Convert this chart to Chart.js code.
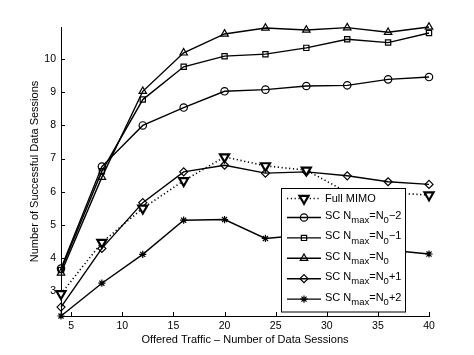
<!DOCTYPE html>
<html><head><meta charset="utf-8">
<script src="https://cdn.jsdelivr.net/npm/chart.js@4"></script>
<style>html,body{margin:0;padding:0;background:#fff;}#wrap{width:474px;height:355px;}</style>
</head><body><div id="wrap"><canvas id="c" width="474" height="355"></canvas></div>
<script>
const sessions = [4, 8, 12, 16, 20, 24, 28, 32, 36, 40];
const fullMimo = [2.92, 4.47, 5.5, 6.33, 7.05, 6.78, 6.65, 5.98, 5.97, 5.9];
const scMinus2 = [3.68, 6.76, 8.0, 8.54, 9.03, 9.08, 9.19, 9.21, 9.39, 9.46];
const scMinus1 = [3.64, 6.62, 8.78, 9.77, 10.09, 10.15, 10.34, 10.6, 10.5, 10.79];
const scZero   = [3.55, 6.44, 9.03, 10.19, 10.76, 10.94, 10.88, 10.95, 10.81, 10.97];
const scPlus1  = [2.52, 4.29, 5.67, 6.6, 6.8, 6.56, 6.6, 6.48, 6.3, 6.22];
const scPlus2  = [2.25, 3.24, 4.11, 5.14, 5.16, 4.59, 4.7, 4.45, 4.24, 4.12];
const xTicks = [5, 10, 15, 20, 25, 30, 35, 40];
const yTicks = [3, 4, 5, 6, 7, 8, 9, 10];
const xTitle = 'Offered Traffic \u2013 Number of Data Sessions';
const yTitle = 'Number of Successful Data Sessions';
// legend label parts: [text, isSubscript]
const legendLabels = [
  [['Full MIMO', 0]],
  [['SC N', 0], ['max', 1], ['=N', 0], ['0', 1], ['\u22122', 0]],
  [['SC N', 0], ['max', 1], ['=N', 0], ['0', 1], ['\u22121', 0]],
  [['SC N', 0], ['max', 1], ['=N', 0], ['0', 1]],
  [['SC N', 0], ['max', 1], ['=N', 0], ['0', 1], ['+1', 0]],
  [['SC N', 0], ['max', 1], ['=N', 0], ['0', 1], ['+2', 0]]
];

const FONT = "'Liberation Sans', Arial, Helvetica, sans-serif";
const pts = arr => arr.map((v, i) => ({x: sessions[i], y: v}));

function ds(data, style, radius, extra) {
  return Object.assign({
    data: pts(data), borderColor: '#000', backgroundColor: '#fff',
    borderWidth: 1.4, pointStyle: style, pointRadius: radius,
    pointBorderColor: '#000', pointBackgroundColor: 'rgba(255,255,255,0)',
    pointBorderWidth: 1.2, tension: 0, fill: false, clip: false
  }, extra || {});
}

const datasets = [
  ds(fullMimo, 'triangle', 5.2, {borderDash: [1.2, 2.6], borderWidth: 1.6, pointRotation: 180, pointBorderWidth: 2.2, pointBackgroundColor: '#fff'}),
  ds(scMinus2, 'circle', 3.7),
  ds(scMinus1, 'rect', 3.7),
  ds(scZero, 'triangle', 4.3),
  ds(scPlus1, 'rectRot', 4.0),
  ds(scPlus2, 'star', 3.6)
];

const inTicks = {
  id: 'inTicks',
  beforeDatasetsDraw(chart) {
    const ctx = chart.ctx, xs = chart.scales.x, ys = chart.scales.y, a = chart.chartArea;
    ctx.save(); ctx.strokeStyle = '#000'; ctx.lineWidth = 1;
    ctx.beginPath();
    xTicks.forEach(v => { const px = Math.round(xs.getPixelForValue(v)) + 0.5; ctx.moveTo(px, a.bottom); ctx.lineTo(px, a.bottom - 4); });
    yTicks.forEach(v => { const py = Math.round(ys.getPixelForValue(v)) + 0.5; ctx.moveTo(a.left, py); ctx.lineTo(a.left + 4, py); });
    ctx.stroke(); ctx.restore();
  }
};

const legendBox = {
  id: 'legendBox',
  afterDraw(chart) {
    const ctx = chart.ctx;
    const bx = 281.5, by = 188.5, bw = 124, bh = 123.5;
    ctx.save();
    ctx.fillStyle = '#fff'; ctx.fillRect(bx, by, bw, bh);
    ctx.strokeStyle = '#000'; ctx.lineWidth = 1; ctx.strokeRect(bx, by, bw, bh);
    const rows = [198.5, 217.5, 237.9, 258.3, 278.7, 299.1];
    datasets.forEach((d, i) => {
      const y = rows[i];
      ctx.save();
      ctx.strokeStyle = '#000'; ctx.lineWidth = d.borderWidth;
      ctx.setLineDash(d.borderDash || []);
      ctx.beginPath(); ctx.moveTo(287, y); ctx.lineTo(321, y); ctx.stroke();
      ctx.setLineDash([]);
      ctx.lineWidth = d.pointBorderWidth; ctx.fillStyle = d.pointBackgroundColor;
      if (Chart.helpers && Chart.helpers.drawPoint) {
        Chart.helpers.drawPoint(ctx, {pointStyle: d.pointStyle, rotation: d.pointRotation || 0, radius: d.pointRadius, borderWidth: d.pointBorderWidth}, 304, y);
      }
      ctx.restore();
      // text
      ctx.fillStyle = '#000'; ctx.textBaseline = 'alphabetic'; ctx.textAlign = 'left';
      let x = 325;
      const parts = legendLabels[i];
      const single = parts.length === 1;
      parts.forEach(([t, sub]) => {
        ctx.font = (sub ? '9.5px ' : '11px ') + FONT;
        const base = single ? y + 3.9 : (sub ? y + 5.6 : y + 1.5);
        ctx.fillText(t, x, base);
        x += ctx.measureText(t).width;
      });
    });
    ctx.restore();
  }
};

new Chart(document.getElementById('c'), {
  type: 'line',
  data: {datasets},
  plugins: [inTicks, legendBox],
  options: {
    responsive: false, animation: false, devicePixelRatio: 1,
    layout: {padding: {top: 27, right: 45, left: 0, bottom: 0}},
    plugins: {legend: {display: false}, tooltip: {enabled: false}},
    scales: {
      x: {
        type: 'linear', min: 4, max: 40, position: 'bottom',
        grid: {display: false, drawTicks: false}, border: {display: true, color: '#000', width: 1},
        ticks: {font: {family: FONT, size: 10.5}, color: '#000', padding: 4, maxRotation: 0, autoSkip: false},
        afterBuildTicks: s => { s.ticks = xTicks.map(v => ({value: v})); },
        afterFit: s => { s.height = 39; },
        title: {display: true, text: xTitle, color: '#000', font: {family: FONT, size: 11}, padding: {top: 0, bottom: 8.4}}
      },
      y: {
        type: 'linear', min: 2.25, max: 10.97,
        grid: {display: false, drawTicks: false}, border: {display: true, color: '#000', width: 1},
        ticks: {font: {family: FONT, size: 10.5}, color: '#000', padding: 5},
        afterBuildTicks: s => { s.ticks = yTicks.map(v => ({value: v})); },
        afterFit: s => { s.width = 61; },
        title: {display: true, text: yTitle, color: '#000', font: {family: FONT, size: 11}, padding: {top: 28.4, bottom: 0}}
      }
    }
  }
});
</script>
</body></html>
